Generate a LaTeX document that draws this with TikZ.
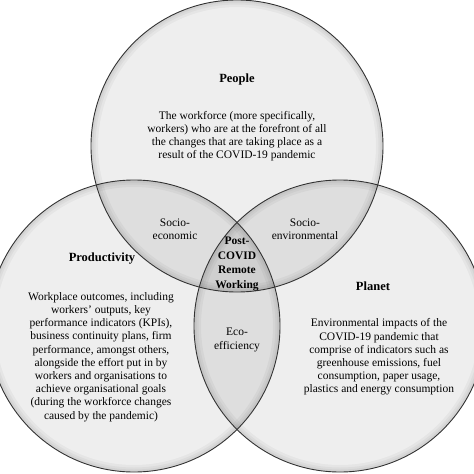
\documentclass[tikz,border=0pt]{standalone}
\usepackage{fontspec}
\setmainfont{Liberation Serif}
\begin{document}
\begin{tikzpicture}
[%%%%%%%%%%%%%%%%%%%%%%%%%%%%%%
x=1pt,y=-1pt,
disc/.style={fill=black,fill opacity=0.065},
rim/.style={draw=black!80,line width=0.9pt},
head/.style={font=\fontsize{12.5}{13}\selectfont\bfseries,align=center,inner sep=0pt},
body/.style={font=\fontsize{11.5}{13.2}\selectfont,align=center,inner sep=0pt},
]%%%%%%%%%%%%%%%%%%%%%%%%%%%%%%
\useasboundingbox (0,0) rectangle (474,474);
\coordinate (cpeople) at (237,146);
\coordinate (cprod) at (134,326);
\coordinate (cplanet) at (340,326);
\foreach \c in {cpeople,cprod,cplanet}
\fill[disc] (\c) circle[radius=146pt];
\foreach \c in {cpeople,cprod,cplanet}{
\begin{scope}
\clip (\c) circle[radius=146pt];
\foreach \w in {14pt,9pt,5pt}
\draw[line width=\w,black,opacity=0.04] (\c) circle[radius=146pt];
\end{scope}
}
\foreach \c in {cpeople,cprod,cplanet}
\draw[rim] (\c) circle[radius=146pt];
% circle texts
\node[head] (people) at (237,79) {People};
\node[body] (peopletxt) at (237,136) {The workforce (more specifically,\\workers) who are at the forefront of all\\the changes that are taking place as a\\result of the COVID-19 pandemic};
\node[head] (prod) at (102,259) {Productivity};
\node[body] (prodtxt) at (101,357) {Workplace outcomes, including\\workers' outputs, key\\performance indicators (KPIs),\\business continuity plans, firm\\performance, amongst others,\\alongside the effort put in by\\workers and organisations to\\achieve organisational goals\\(during the workforce changes\\caused by the pandemic)};
\node[head] (planet) at (373,286) {Planet};
\node[body] (planettxt) at (379,357) {Environmental impacts of the\\COVID-19 pandemic that\\comprise of indicators such as\\greenhouse emissions, fuel\\consumption, paper usage,\\plastics and energy consumption};
% overlaps
\node[body] (socioeco) at (175,229) {Socio-\\economic};
\node[body] (socioenv) at (305,229) {Socio-\\environmental};
\node[body] (ecoeff) at (237,340) {Eco-\\efficiency};
\node[head,font=\fontsize{11.5}{14.5}\selectfont\bfseries] (remote) at (237,264) {Post-\\COVID\\Remote\\Working};
\end{tikzpicture}
\end{document}
